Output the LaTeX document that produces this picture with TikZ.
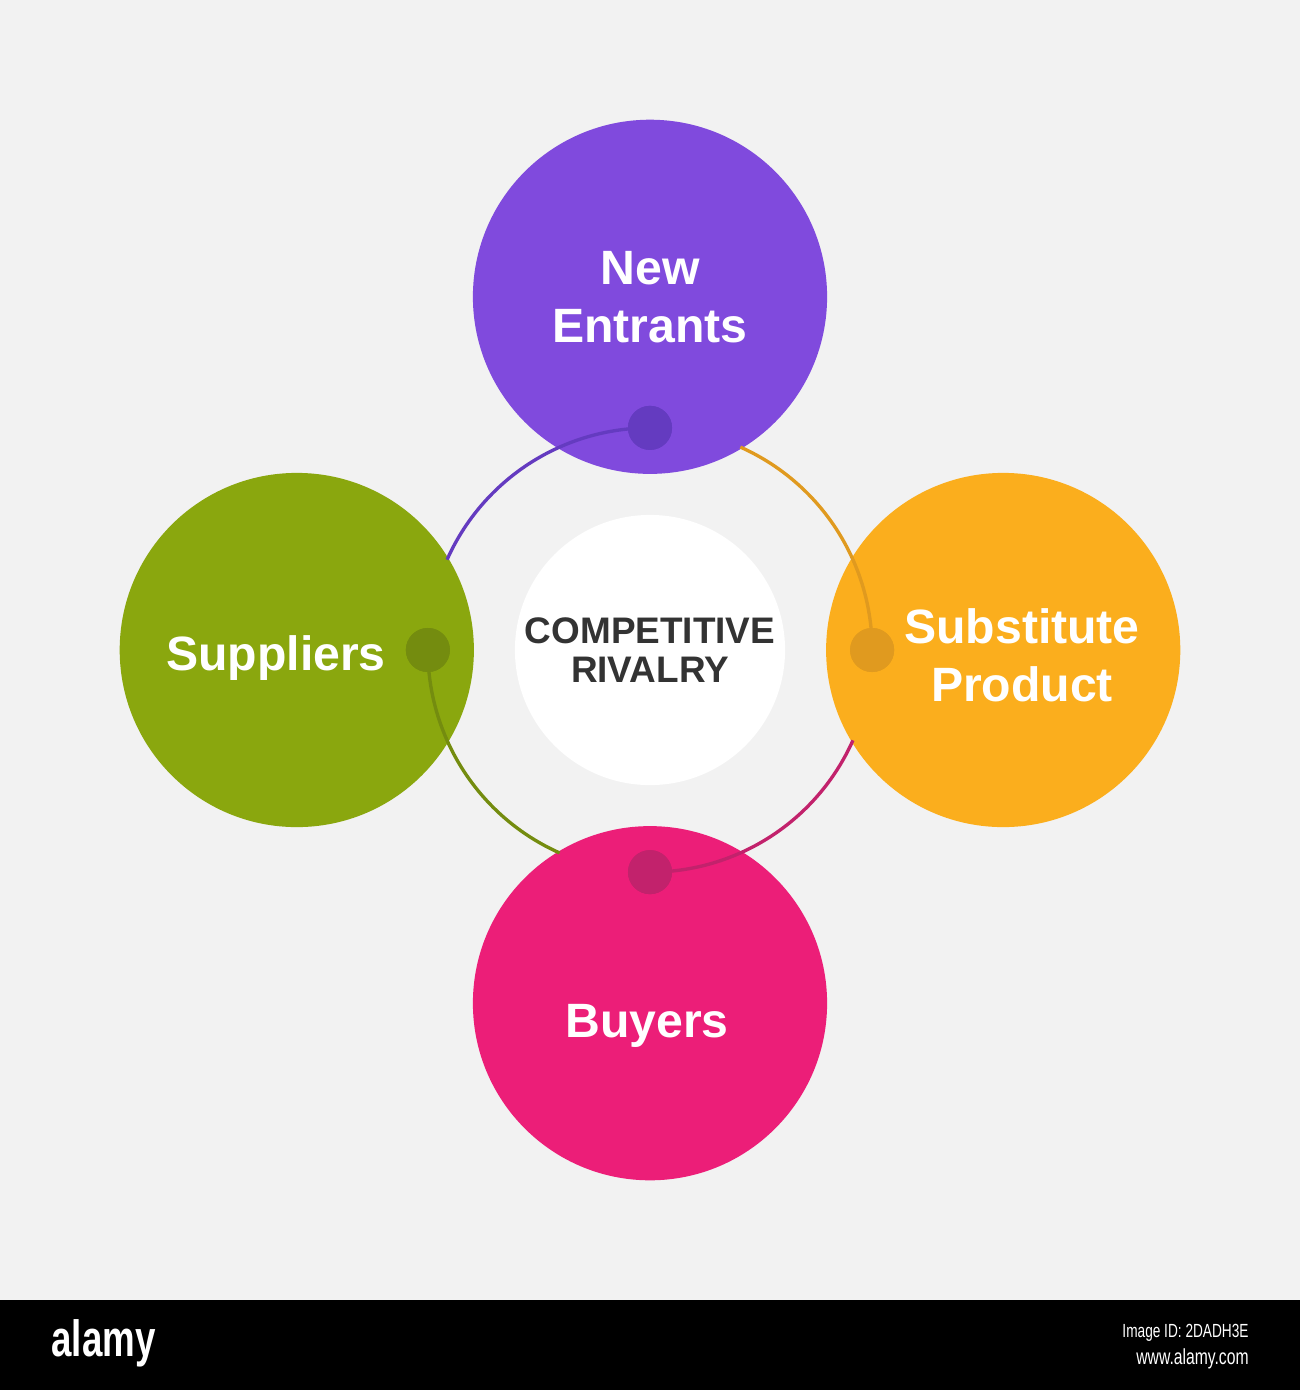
\documentclass[tikz,border=0pt]{standalone}
\usepackage{fontspec}
\setmainfont{Liberation Sans}
\usepackage{tikz}
\usepackage{xcolor}
\definecolor{backdrop}{HTML}{F2F2F2}
\definecolor{entrants}{HTML}{804ADD}
\definecolor{entrantsdark}{HTML}{643BC0}
\definecolor{substitute}{HTML}{FBAE1D}
\definecolor{substitutedark}{HTML}{E09A1F}
\definecolor{buyers}{HTML}{EC1E78}
\definecolor{buyersdark}{HTML}{C2226C}
\definecolor{suppliers}{HTML}{8AA70E}
\definecolor{suppliersdark}{HTML}{748C0F}
\definecolor{ink}{HTML}{333333}

\begin{document}
\begin{tikzpicture}[x=0.01cm, y=-0.01cm, node distance=3.53cm, thick,
    force/.style={circle, minimum size=3.54cm, inner sep=0pt},
    joint/.style={circle, minimum size=0.44cm, inner sep=0pt},
    ringarc/.style={line width=0.95pt},
    caption/.style={text=white, align=center, font=\bfseries\fontsize{13.7}{16.5}\selectfont}]
      \fill[backdrop] (0,0) rectangle (1300,1300);
      \fill[black] (0,1300) rectangle (1300,1390);

      \node[circle, fill=white, minimum size=2.7cm, inner sep=0pt] (rivalry) at (650,650) {};
      \node[force, fill=entrants, above of=rivalry] (entrants) {};
      \node[force, fill=substitute, right of=rivalry] (substitute) {};
      \node[force, fill=buyers, below of=rivalry] (buyers) {};
      \node[force, fill=suppliers, left of=rivalry] (suppliers) {};

      \node[joint, fill=entrantsdark, above of=rivalry, node distance=2.22cm] (entrantsdot) {};
      \node[joint, fill=substitutedark, right of=rivalry, node distance=2.22cm] (substitutedot) {};
      \node[joint, fill=buyersdark, below of=rivalry, node distance=2.22cm] (buyersdot) {};
      \node[joint, fill=suppliersdark, left of=rivalry, node distance=2.22cm] (suppliersdot) {};

      % each arc runs from its dot until it slips under the next circle
      \draw[ringarc, entrantsdark] (entrantsdot.center) arc[start angle=90, end angle=156, radius=2.22cm];
      \draw[ringarc, suppliersdark] (suppliersdot.center) arc[start angle=180, end angle=246, radius=2.22cm];
      \draw[ringarc, buyersdark] (buyersdot.center) arc[start angle=270, end angle=336, radius=2.22cm];
      \draw[ringarc, substitutedark] (substitutedot.center) arc[start angle=0, end angle=66, radius=2.22cm];
      \foreach \f in {entrants, substitute, buyers, suppliers}
        \node[joint, fill=\f dark] at (\f dot) {};

      \node[caption] (entrantslabel) at (650,297) {New\\Entrants};
      \node[caption] (substitutelabel) at (1022,655) {Substitute\\Product};
      \node[caption] (buyerslabel) at (647,1026) {Buyers};
      \node[caption] (supplierslabel) at (276,658) {Suppliers};
      \node[text=ink, align=center, font=\bfseries\fontsize{10.5}{11.1}\selectfont] (rivalrylabel) at (650,650) {COMPETITIVE\\RIVALRY};

      \node[text=white, anchor=west, font=\bfseries\fontsize{14.5}{14.5}\selectfont, inner sep=0pt] (logo) at (50,1343) {\scalebox{0.72}[1]{alamy}};
      \node[text=white, anchor=east, font=\fontsize{5.4}{5.4}\selectfont, inner sep=0pt] (imageid) at (1250,1333) {\scalebox{0.72}[1]{Image ID: 2DADH3E}};
      \node[text=white, anchor=east, font=\fontsize{6.2}{6.2}\selectfont, inner sep=0pt] (website) at (1250,1359) {\scalebox{0.72}[1]{www.alamy.com}};
    \end{tikzpicture}
\end{document}
